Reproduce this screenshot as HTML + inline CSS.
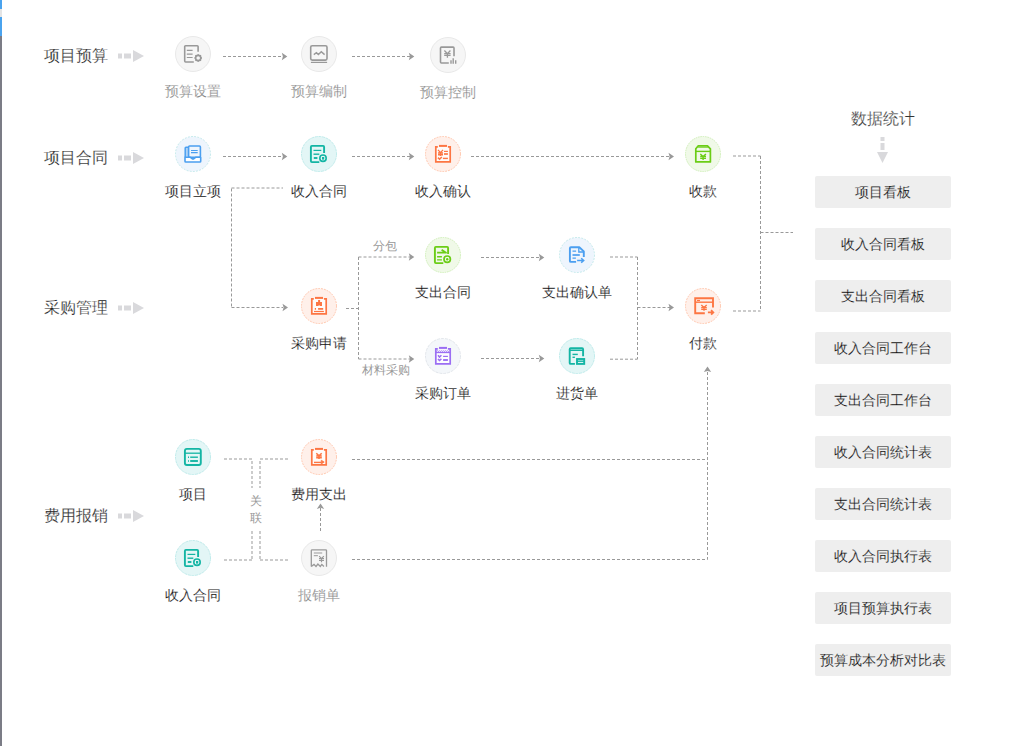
<!DOCTYPE html>
<html><head><meta charset="utf-8"><style>
html,body{margin:0;padding:0;background:#fff;width:1013px;height:746px;overflow:hidden;font-family:"Liberation Sans", sans-serif;}
.a{position:absolute;}
.sec{position:absolute;font-size:16px;color:#222;-webkit-text-stroke:0.2px #fff;white-space:nowrap;line-height:20px;}
.lbl{position:absolute;font-size:14px;-webkit-text-stroke:0.15px #fff;white-space:nowrap;line-height:16px;width:120px;text-align:center;}
.circ{position:absolute;width:34px;height:34px;border-radius:50%;}
.btn{position:absolute;left:815px;width:136px;height:32px;background:#eeeeee;border-radius:2px;font-size:14px;color:#111;-webkit-text-stroke:0.15px #eee;text-align:center;line-height:32px;}
.small{position:absolute;font-size:12px;color:#999;white-space:nowrap;line-height:14px;}
</style></head><body>
<div class="a" style="left:0;top:0;width:2px;height:746px;background:#7b7c86"></div>
<div class="a" style="left:0;top:0;width:2px;height:9px;background:#4aa3ee"></div>
<div class="a" style="left:0;top:9px;width:2px;height:8px;background:#e4e4e4"></div>
<div class="a" style="left:0;top:17px;width:2px;height:19px;background:#4aa3ee"></div>

<div class="sec" style="left:44px;top:46px">项目预算</div>
<svg class="a" style="left:118px;top:49.5px" width="26" height="12" viewBox="0 0 26 12"><rect x="0" y="3.5" width="4" height="5" fill="#d9d9dc"/><rect x="6" y="3.5" width="7" height="5" fill="#d9d9dc"/><path d="M15 0 L26 6 L15 12 Z" fill="#d9d9dc"/></svg>
<div class="sec" style="left:44px;top:148px">项目合同</div>
<svg class="a" style="left:118px;top:151.7px" width="26" height="12" viewBox="0 0 26 12"><rect x="0" y="3.5" width="4" height="5" fill="#d9d9dc"/><rect x="6" y="3.5" width="7" height="5" fill="#d9d9dc"/><path d="M15 0 L26 6 L15 12 Z" fill="#d9d9dc"/></svg>
<div class="sec" style="left:44px;top:298px">采购管理</div>
<svg class="a" style="left:118px;top:301.7px" width="26" height="12" viewBox="0 0 26 12"><rect x="0" y="3.5" width="4" height="5" fill="#d9d9dc"/><rect x="6" y="3.5" width="7" height="5" fill="#d9d9dc"/><path d="M15 0 L26 6 L15 12 Z" fill="#d9d9dc"/></svg>
<div class="sec" style="left:44px;top:506px">费用报销</div>
<svg class="a" style="left:118px;top:509.70000000000005px" width="26" height="12" viewBox="0 0 26 12"><rect x="0" y="3.5" width="4" height="5" fill="#d9d9dc"/><rect x="6" y="3.5" width="7" height="5" fill="#d9d9dc"/><path d="M15 0 L26 6 L15 12 Z" fill="#d9d9dc"/></svg>
<svg class="a" style="left:175px;top:36px" width="36" height="36" viewBox="0 0 36 36"><circle cx="18" cy="18" r="17.5" fill="#f6f6f6" stroke="#e8e8e8" stroke-width="1" stroke-dasharray="none"/></svg>
<svg class="a" style="left:175px;top:36px;color:#999999" width="36" height="36" viewBox="0 0 36 36"><path d="M18.8 26 H10.6 Q9.7 26 9.7 25.1 V10.6 Q9.7 9.7 10.6 9.7 H22.2 Q23.1 9.7 23.1 10.6 V15.7" fill="none" stroke="currentColor" stroke-width="1.6"/>
   <path d="M11.8 14.4h5.8M11.8 18.2h5.8M11.8 21.5h5.8" stroke="currentColor" stroke-width="1.2"/>
   <circle cx="23.2" cy="22" r="2.6" fill="none" stroke="currentColor" stroke-width="1.6"/>
   <path d="M23.2 18.2v1.4M23.2 24.4v1.4M19.4 22h1.4M25.6 22h1.4M20.5 19.3l1 1M24.9 23.7l1 1M25.9 19.3l-1 1M21.5 23.7l-1 1" stroke="currentColor" stroke-width="1.5"/></svg>
<div class="lbl" style="left:133px;top:83px;color:#888">预算设置</div>
<svg class="a" style="left:301px;top:36px" width="36" height="36" viewBox="0 0 36 36"><circle cx="18" cy="18" r="17.5" fill="#f6f6f6" stroke="#e8e8e8" stroke-width="1" stroke-dasharray="none"/></svg>
<svg class="a" style="left:301px;top:36px;color:#999999" width="36" height="36" viewBox="0 0 36 36"><rect x="9.7" y="9.7" width="16.3" height="14.4" rx="1.5" fill="none" stroke="currentColor" stroke-width="1.6"/>
   <path d="M9.9 26.4h16.2" stroke="currentColor" stroke-width="1.2"/>
   <path d="M12.8 18.6l2.6-1.9 2 1.9 2.9-2.9 3.3 2.9" fill="none" stroke="currentColor" stroke-width="1.4"/></svg>
<div class="lbl" style="left:259px;top:83px;color:#888">预算编制</div>
<svg class="a" style="left:430px;top:37px" width="36" height="36" viewBox="0 0 36 36"><circle cx="18" cy="18" r="17.5" fill="#f6f6f6" stroke="#e8e8e8" stroke-width="1" stroke-dasharray="none"/></svg>
<svg class="a" style="left:430px;top:37px;color:#999999" width="36" height="36" viewBox="0 0 36 36"><path d="M18.8 26 H11.4 Q10.5 26 10.5 25.1 V11 Q10.5 10.1 11.4 10.1 H23.1 Q24 10.1 24 11 V19.3" fill="none" stroke="currentColor" stroke-width="1.6"/>
   <path d="M14.4 13.5l3 3.2 3-3.2M17.4 16.7v4.1M14.2 16.6h6.4M14.2 18.4h6.4" fill="none" stroke="currentColor" stroke-width="1.3"/>
   <path d="M21 26.8v-3.6M23.2 26.8v-5.6M25.7 26.8v-3.6" stroke="currentColor" stroke-width="1.4"/></svg>
<div class="lbl" style="left:388px;top:84px;color:#888">预算控制</div>
<svg class="a" style="left:175px;top:136px" width="36" height="36" viewBox="0 0 36 36"><circle cx="18" cy="18" r="17.5" fill="#eef5fd" stroke="#c2e9ea" stroke-width="1" stroke-dasharray="1.8 1.4"/></svg>
<svg class="a" style="left:175px;top:136px;color:#4b9ff0" width="36" height="36" viewBox="0 0 36 36"><rect x="10.2" y="11.4" width="3" height="9.6" fill="currentColor" opacity="0.4"/>
   <path d="M10.2 21 V12 Q10.2 11.2 11 11.2 H13.6" fill="none" stroke="currentColor" stroke-width="1.5"/>
   <rect x="13.6" y="10" width="11.8" height="11.2" rx="1" fill="none" stroke="currentColor" stroke-width="1.6"/>
   <path d="M16 14.5H22.7M16 16.7H22.7" stroke="currentColor" stroke-width="1.2"/>
   <path d="M10 21.3 H15.4 L17.4 22.9 H18.6 L20.6 21.3 H25.7 V25.2 Q25.7 26 24.9 26 H10.8 Q10 26 10 25.2 Z" fill="#fff" stroke="currentColor" stroke-width="1.6" stroke-linejoin="round"/></svg>
<div class="lbl" style="left:133px;top:183px;color:#111">项目立项</div>
<svg class="a" style="left:301px;top:136px" width="36" height="36" viewBox="0 0 36 36"><circle cx="18" cy="18" r="17.5" fill="#e3f6f6" stroke="#c0ebeb" stroke-width="1" stroke-dasharray="3 0.7"/></svg>
<svg class="a" style="left:301px;top:136px;color:#13b5a4" width="36" height="36" viewBox="0 0 36 36"><path d="M18.3 26.1 H10.9 Q9.9 26.1 9.9 25.1 V10.9 Q9.9 9.9 10.9 9.9 H22.1 Q23.1 9.9 23.1 10.9 V17" fill="none" stroke="currentColor" stroke-width="1.9"/>
   <path d="M12.5 14.4h7.8" stroke="currentColor" stroke-width="1.2"/>
   <path d="M12.5 18.2h5.8" stroke="currentColor" stroke-width="1.4"/>
   <path d="M12.8 22h3.6" stroke="currentColor" stroke-width="1.9"/>
   <circle cx="22" cy="22.2" r="3.2" fill="none" stroke="currentColor" stroke-width="1.6"/>
   <rect x="21" y="21" width="2.2" height="2.6" fill="currentColor"/></svg>
<div class="lbl" style="left:259px;top:183px;color:#111">收入合同</div>
<svg class="a" style="left:425px;top:136px" width="36" height="36" viewBox="0 0 36 36"><circle cx="18" cy="18" r="17.5" fill="#fff0ea" stroke="#ffc5ab" stroke-width="1" stroke-dasharray="1.8 1.1"/></svg>
<svg class="a" style="left:425px;top:136px;color:#fd7643" width="36" height="36" viewBox="0 0 36 36"><rect x="10.8" y="10.8" width="14.4" height="15.1" fill="#fff" opacity="0.7"/><path d="M12.8 10.8 H10.8 V25.9 H25.2 V10.8 H22.9" fill="none" stroke="currentColor" stroke-width="1.7"/>
   <rect x="14" y="8.9" width="8" height="2" fill="currentColor"/>
   <path d="M13 13.9l2.5 2.7 2.5-2.7M15.5 16.6v3.4M13 17h5M13 18.7h5" fill="none" stroke="currentColor" stroke-width="1.35"/>
   <path d="M19 15.4h3.9" stroke="currentColor" stroke-width="1.2"/>
   <path d="M19 18h3.9" stroke="currentColor" stroke-width="1.7"/>
   <path d="M13 21.6l1.6 1.6 2.2-2.2" fill="none" stroke="currentColor" stroke-width="1.6"/>
   <path d="M17.9 22.4h5" stroke="currentColor" stroke-width="1.4"/></svg>
<div class="lbl" style="left:383px;top:183px;color:#111">收入确认</div>
<svg class="a" style="left:685px;top:136px" width="36" height="36" viewBox="0 0 36 36"><circle cx="18" cy="18" r="17.5" fill="#f0f9e8" stroke="#d0efb9" stroke-width="1" stroke-dasharray="1.6 0.8"/></svg>
<svg class="a" style="left:685px;top:136px;color:#6bcd16" width="36" height="36" viewBox="0 0 36 36"><path d="M10.8 25.9 V12.8 L13.3 9.8 H22.5 L25.4 12.8 V25.9 Z" fill="none" stroke="currentColor" stroke-width="1.7" stroke-linejoin="round"/>
   <path d="M10.8 15.4 H25.4" stroke="currentColor" stroke-width="1.4"/>
   <path d="M13 11.8l1 -1 1 1 1 -1 1 1 1 -1 1 1 1 -1 1 1 1 -1 1 1" fill="none" stroke="currentColor" stroke-width="1"/>
   <path d="M15.3 17.9l2.8 2.6 2.8-2.6M18.1 20.5v3.5M15.2 20.4h5.8M15.2 22.3h5.8" fill="none" stroke="currentColor" stroke-width="1.4"/></svg>
<div class="lbl" style="left:643px;top:183px;color:#111">收款</div>
<svg class="a" style="left:425px;top:237px" width="36" height="36" viewBox="0 0 36 36"><circle cx="18" cy="18" r="17.5" fill="#f0f9e8" stroke="#d0efb9" stroke-width="1" stroke-dasharray="1.6 0.8"/></svg>
<svg class="a" style="left:425px;top:237px;color:#6bcd16" width="36" height="36" viewBox="0 0 36 36"><path d="M18.3 26.1 H10.9 Q9.9 26.1 9.9 25.1 V10.9 Q9.9 9.9 10.9 9.9 H22.1 Q23.1 9.9 23.1 10.9 V17" fill="none" stroke="currentColor" stroke-width="1.9"/>
   <path d="M12.1 15.7h8.9L16.6 12.7" fill="none" stroke="currentColor" stroke-width="1.8" stroke-linejoin="round"/>
   <path d="M12.1 19.8h4.8M12.1 22.9h4.8" stroke="currentColor" stroke-width="1.4"/>
   <circle cx="22.2" cy="22.2" r="3.2" fill="none" stroke="currentColor" stroke-width="1.7"/>
   <circle cx="22.2" cy="22.2" r="1.2" fill="currentColor"/></svg>
<div class="lbl" style="left:383px;top:284px;color:#111">支出合同</div>
<svg class="a" style="left:559px;top:237px" width="36" height="36" viewBox="0 0 36 36"><circle cx="18" cy="18" r="17.5" fill="#eef5fd" stroke="#c2e9ea" stroke-width="1" stroke-dasharray="1.8 1.4"/></svg>
<svg class="a" style="left:559px;top:237px;color:#4b9ff0" width="36" height="36" viewBox="0 0 36 36"><path d="M17.1 24.9 H11.9 Q10.9 24.9 10.9 23.9 V11.2 Q10.9 10.2 11.9 10.2 H20.3 L24.8 14.4 V20" fill="none" stroke="currentColor" stroke-width="1.9" stroke-linejoin="round"/>
   <path d="M19.8 10.6 V15 H24.4" fill="none" stroke="currentColor" stroke-width="1.3"/>
   <path d="M13.5 14.2h3.6M13.5 21.2h3.4" stroke="currentColor" stroke-width="1.2"/>
   <path d="M13.5 18h7.3" stroke="currentColor" stroke-width="1.7"/>
   <path d="M18.1 23.4h6.6M22.2 21.2l2.5 2.2-2.5 2.3" fill="none" stroke="currentColor" stroke-width="1.5"/></svg>
<div class="lbl" style="left:517px;top:284px;color:#111">支出确认单</div>
<svg class="a" style="left:301px;top:288px" width="36" height="36" viewBox="0 0 36 36"><circle cx="18" cy="18" r="17.5" fill="#fff0ea" stroke="#ffc5ab" stroke-width="1" stroke-dasharray="1.8 1.1"/></svg>
<svg class="a" style="left:301px;top:288px;color:#fd7643" width="36" height="36" viewBox="0 0 36 36"><rect x="10.8" y="10.8" width="14.4" height="15.1" fill="#fff" opacity="0.7"/><path d="M12.8 10.8 H10.8 V25.9 H25.2 V10.8 H22.9" fill="none" stroke="currentColor" stroke-width="1.7"/>
   <rect x="14" y="8.9" width="8" height="2" fill="currentColor"/>
   <rect x="17.1" y="12" width="2" height="2.2" fill="currentColor"/>
   <path d="M15 14 H21 V18.1 H19 L18.1 17 L17.2 18.1 H15 Z" fill="currentColor"/>
   <path d="M13.8 20.8h1.2M17.1 20.8h5.1" stroke="currentColor" stroke-width="1.7"/>
   <path d="M13 23.5h9.9" stroke="currentColor" stroke-width="1.2"/></svg>
<div class="lbl" style="left:259px;top:335px;color:#111">采购申请</div>
<svg class="a" style="left:685px;top:288px" width="36" height="36" viewBox="0 0 36 36"><circle cx="18" cy="18" r="17.5" fill="#fff0ea" stroke="#ffc5ab" stroke-width="1" stroke-dasharray="1.8 1.1"/></svg>
<svg class="a" style="left:685px;top:288px;color:#fd7643" width="36" height="36" viewBox="0 0 36 36"><path d="M19.8 25.2 H10.2 V10.2 H28 V19.5" fill="none" stroke="currentColor" stroke-width="1.9"/>
   <path d="M10.2 14.2 H28" stroke="currentColor" stroke-width="1.4"/>
   <path d="M12 12.5h3" stroke="currentColor" stroke-width="1.2"/>
   <path d="M16.3 16.9l2.7 2.6 2.7-2.6M19 19.5v3.3M16.2 19.6h5.6M16.2 21.4h5.6" fill="none" stroke="currentColor" stroke-width="1.35"/>
   <path d="M22.9 24.4h5.4M26.1 22.1l2.3 2.3-2.3 2.3" fill="none" stroke="currentColor" stroke-width="1.7"/></svg>
<div class="lbl" style="left:643px;top:335px;color:#111">付款</div>
<svg class="a" style="left:425px;top:338px" width="36" height="36" viewBox="0 0 36 36"><circle cx="18" cy="18" r="17.5" fill="#f4f7fa" stroke="#e2e6eb" stroke-width="1" stroke-dasharray="3 1"/></svg>
<svg class="a" style="left:425px;top:338px;color:#9b6ef3" width="36" height="36" viewBox="0 0 36 36"><path d="M10.8 10.8 H25.2 V13.8 H10.8 Z" fill="currentColor" opacity="0.18"/>
   <rect x="10.8" y="10.8" width="14.4" height="15.1" fill="#fff" opacity="0.7"/><path d="M12.8 10.8 H10.8 V25.9 H25.2 V10.8 H22.9" fill="none" stroke="currentColor" stroke-width="1.7"/>
   <rect x="14" y="8.9" width="8" height="2" fill="currentColor"/>
   <path d="M11 14.5 H25" stroke="currentColor" stroke-width="1.3"/>
   <path d="M11.5 13.6l1-1 1 1 1-1 1 1 1-1 1 1 1-1 1 1 1-1 1 1 1-1 1 1 1-1" fill="none" stroke="currentColor" stroke-width="0.8"/>
   <path d="M13 17.3l1.5 1.8 1.9-1.8M13 20.9l1.5 1.6 1.9-1.6" fill="none" stroke="currentColor" stroke-width="1.5"/>
   <path d="M18.1 18.4h4.8" stroke="currentColor" stroke-width="1.2"/>
   <path d="M18.1 22h4.8" stroke="currentColor" stroke-width="1.9"/></svg>
<div class="lbl" style="left:383px;top:385px;color:#111">采购订单</div>
<svg class="a" style="left:559px;top:338px" width="36" height="36" viewBox="0 0 36 36"><circle cx="18" cy="18" r="17.5" fill="#e3f6f6" stroke="#c0ebeb" stroke-width="1" stroke-dasharray="3 0.7"/></svg>
<svg class="a" style="left:559px;top:338px;color:#13b5a4" width="36" height="36" viewBox="0 0 36 36"><path d="M15.9 25.9 H11.7 Q10.7 25.9 10.7 24.9 V11.2 Q10.7 10.2 11.7 10.2 H23.1 Q24.1 10.2 24.1 11.2 V18.3" fill="none" stroke="currentColor" stroke-width="1.9"/>
   <path d="M10.7 12.3 H24.1" stroke="currentColor" stroke-width="1.4"/>
   <path d="M13.5 16.4h5.3" stroke="currentColor" stroke-width="1.4"/>
   <path d="M13.5 19.3h2.4" stroke="currentColor" stroke-width="1.4"/>
   <rect x="18" y="21" width="7.2" height="4.9" fill="none" stroke="currentColor" stroke-width="1.9"/>
   <path d="M18 23.2 H25.2" stroke="currentColor" stroke-width="1.4"/></svg>
<div class="lbl" style="left:517px;top:385px;color:#111">进货单</div>
<svg class="a" style="left:175px;top:439px" width="36" height="36" viewBox="0 0 36 36"><circle cx="18" cy="18" r="17.5" fill="#e3f6f6" stroke="#c0ebeb" stroke-width="1" stroke-dasharray="3 0.7"/></svg>
<svg class="a" style="left:175px;top:439px;color:#13b5a4" width="36" height="36" viewBox="0 0 36 36"><rect x="9.9" y="9.9" width="15.9" height="16.1" rx="2" fill="none" stroke="currentColor" stroke-width="1.9"/>
   <path d="M9.9 14.2 H25.8" stroke="currentColor" stroke-width="1.3"/>
   <path d="M13 18.2h1M13 22h1" stroke="currentColor" stroke-width="1.5"/>
   <path d="M15.2 18.2h7.7" stroke="currentColor" stroke-width="1.4"/>
   <path d="M15.2 22h7.7" stroke="currentColor" stroke-width="1.9"/></svg>
<div class="lbl" style="left:133px;top:486px;color:#111">项目</div>
<svg class="a" style="left:301px;top:439px" width="36" height="36" viewBox="0 0 36 36"><circle cx="18" cy="18" r="17.5" fill="#fff0ea" stroke="#ffc5ab" stroke-width="1" stroke-dasharray="1.8 1.1"/></svg>
<svg class="a" style="left:301px;top:439px;color:#fd7643" width="36" height="36" viewBox="0 0 36 36"><rect x="10.8" y="10.8" width="14.4" height="15.1" fill="#fff" opacity="0.7"/><path d="M12.8 10.8 H10.8 V25.9 H25.2 V10.8 H22.9" fill="none" stroke="currentColor" stroke-width="1.7"/>
   <rect x="14" y="8.9" width="8" height="2" fill="currentColor"/>
   <path d="M15.3 14.2l2.7 2.7 2.7-2.7M18 16.9v3.1M15.2 17.1h5.6M15.2 18.8h5.6" fill="none" stroke="currentColor" stroke-width="1.5"/>
   <path d="M13 23.4h7.5" stroke="currentColor" stroke-width="1.4"/>
   <path d="M20.3 21.2 L23.2 23.1 L20.3 24.9 Z" fill="currentColor" stroke="currentColor" stroke-width="0.8" stroke-linejoin="round"/></svg>
<div class="lbl" style="left:259px;top:486px;color:#111">费用支出</div>
<svg class="a" style="left:175px;top:540px" width="36" height="36" viewBox="0 0 36 36"><circle cx="18" cy="18" r="17.5" fill="#e3f6f6" stroke="#c0ebeb" stroke-width="1" stroke-dasharray="3 0.7"/></svg>
<svg class="a" style="left:175px;top:540px;color:#13b5a4" width="36" height="36" viewBox="0 0 36 36"><path d="M18.3 26.1 H10.9 Q9.9 26.1 9.9 25.1 V10.9 Q9.9 9.9 10.9 9.9 H22.1 Q23.1 9.9 23.1 10.9 V17" fill="none" stroke="currentColor" stroke-width="1.9"/>
   <path d="M12.5 14.4h7.8" stroke="currentColor" stroke-width="1.2"/>
   <path d="M12.5 18.2h5.8" stroke="currentColor" stroke-width="1.4"/>
   <path d="M12.8 22h3.6" stroke="currentColor" stroke-width="1.9"/>
   <circle cx="22" cy="22.2" r="3.2" fill="none" stroke="currentColor" stroke-width="1.6"/>
   <rect x="21" y="21" width="2.2" height="2.6" fill="currentColor"/></svg>
<div class="lbl" style="left:133px;top:587px;color:#111">收入合同</div>
<svg class="a" style="left:301px;top:540px" width="36" height="36" viewBox="0 0 36 36"><circle cx="18" cy="18" r="17.5" fill="#f6f6f6" stroke="#e8e8e8" stroke-width="1" stroke-dasharray="none"/></svg>
<svg class="a" style="left:301px;top:540px;color:#999999" width="36" height="36" viewBox="0 0 36 36"><path d="M10.3 26.5 V10.6 Q10.3 9.8 11.1 9.8 H24.7 Q25.5 9.8 25.5 10.6 V26.8" fill="none" stroke="currentColor" stroke-width="1.3"/>
   <path d="M10.3 26.5 L13 24.4 L15 26.5 L16.9 24.1 L19.3 26.5 L20.8 24.4 L22.9 26.5" fill="none" stroke="currentColor" stroke-width="1.3"/>
   <path d="M12.8 13h8.4M12.8 15.7h4.1" stroke="currentColor" stroke-width="1"/>
   <path d="M18.2 16.2l2.3 2.4 2.3-2.4M20.5 18.6v3.6M18 18.5h5M18 20.3h5" fill="none" stroke="currentColor" stroke-width="1.2"/></svg>
<div class="lbl" style="left:259px;top:587px;color:#888">报销单</div>
<svg class="a" style="left:0;top:0" width="1013" height="746" viewBox="0 0 1013 746">
<g fill="none" stroke="#999" stroke-width="1" stroke-dasharray="3 2"><path d="M223 56.5H283"/><path d="M352 56.5H410"/><path d="M223 156.5H283"/><path d="M352 156.5H410"/><path d="M471 156.5H670"/><path d="M231.5 188H283"/><path d="M231.5 188.5V307.5"/><path d="M231.5 307.5H283"/><path d="M346 308.5H358.5"/><path d="M358.5 257V359"/><path d="M358.5 257H410"/><path d="M358.5 359H410"/><path d="M481 257.5H540"/><path d="M481 358.5H540"/><path d="M610 257H637.5"/><path d="M610 359.2H637.5"/><path d="M637.5 257V359.2"/><path d="M637.5 307.5H670"/><path d="M733 156H760.5"/><path d="M733 311H760.5"/><path d="M760.5 156V311"/><path d="M760.5 232.5H793"/><path d="M224 459H252"/><path d="M252 461V488"/><path d="M260 459H288"/><path d="M260 461V488"/><path d="M252 531V559"/><path d="M224 560H252"/><path d="M260 531V559"/><path d="M260 560H288"/><path d="M352 459.5H707.5"/><path d="M352 559.5H707.5"/><path d="M707.5 372V559.5"/><path d="M320.5 508V533"/></g>
<g fill="#999" stroke="none"><path class="ah" d="M281.8 52.8L287.3 56.5L281.8 60.2L282.90000000000003 56.5Z"/><path class="ah" d="M408.8 52.8L414.3 56.5L408.8 60.2L409.90000000000003 56.5Z"/><path class="ah" d="M281.8 152.8L287.3 156.5L281.8 160.2L282.90000000000003 156.5Z"/><path class="ah" d="M408.8 152.8L414.3 156.5L408.8 160.2L409.90000000000003 156.5Z"/><path class="ah" d="M668.5 152.8L674 156.5L668.5 160.2L669.6 156.5Z"/><path class="ah" d="M282.5 303.8L288 307.5L282.5 311.2L283.6 307.5Z"/><path class="ah" d="M408.8 253.3L414.3 257L408.8 260.7L409.90000000000003 257Z"/><path class="ah" d="M408.8 355.3L414.3 359L408.8 362.7L409.90000000000003 359Z"/><path class="ah" d="M538.8 253.8L544.3 257.5L538.8 261.2L539.9 257.5Z"/><path class="ah" d="M538.8 354.8L544.3 358.5L538.8 362.2L539.9 358.5Z"/><path class="ah" d="M668.5 303.8L674 307.5L668.5 311.2L669.6 307.5Z"/><path class="ah" d="M703.8 372.0L707.5 366.5L711.2 372.0L707.5 370.9Z"/><path class="ah" d="M316.8 508.9L320.5 503.4L324.2 508.9L320.5 507.79999999999995Z"/></g>
</svg>
<div class="small" style="left:373px;top:239px">分包</div>
<div class="small" style="left:362px;top:363px">材料采购</div>
<div class="small" style="left:250px;top:494px">关</div>
<div class="small" style="left:250px;top:511px">联</div>
<div class="sec" style="left:851px;top:109px;color:#333">数据统计</div>
<svg class="a" style="left:877px;top:137px" width="11" height="26" viewBox="0 0 11 26"><rect x="3.5" y="0" width="4" height="4" fill="#d9d9dc"/><rect x="3.5" y="6" width="4" height="7" fill="#d9d9dc"/><path d="M0 15 L11 15 L5.5 26 Z" fill="#d9d9dc"/></svg>
<div class="btn" style="top:176px">项目看板</div>
<div class="btn" style="top:228px">收入合同看板</div>
<div class="btn" style="top:280px">支出合同看板</div>
<div class="btn" style="top:332px">收入合同工作台</div>
<div class="btn" style="top:384px">支出合同工作台</div>
<div class="btn" style="top:436px">收入合同统计表</div>
<div class="btn" style="top:488px">支出合同统计表</div>
<div class="btn" style="top:540px">收入合同执行表</div>
<div class="btn" style="top:592px">项目预算执行表</div>
<div class="btn" style="top:644px">预算成本分析对比表</div>
</body></html>
